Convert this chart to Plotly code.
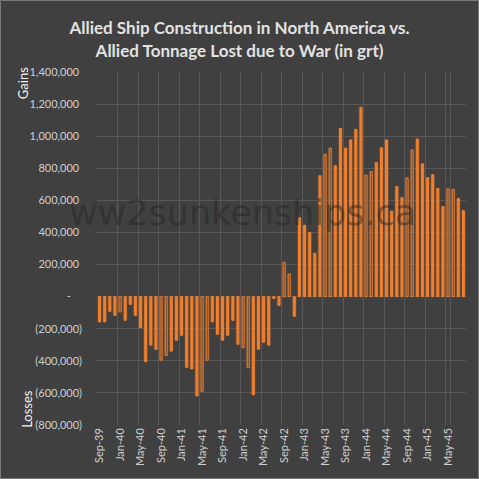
import plotly.graph_objects as go

# ---- data (grt, net gains/losses per month) ----
month_names = ["Jan", "Feb", "Mar", "Apr", "May", "Jun", "Jul", "Aug", "Sep", "Oct", "Nov", "Dec"]
months = []
for yr in range(39, 46):
    for m in month_names:
        months.append(f"{m}-{yr}")
months = months[8:8 + 72]  # Sep-39 .. Aug-45

values = [
    -158000, -158000, -92000, -117000, -96000, -148000, -49000, -117000,
    -193000, -406000, -303000, -329000, -396000, -368000, -340000, -272000,
    -241000, -441000, -451000, -619000, -591000, -396000, -158000, -235000,
    -272000, -241000, -148000, -297000, -319000, -443000, -612000, -328000,
    -285000, -303000, -12000, -55000, 214000, 141000, -123000, 492000,
    445000, 399000, 271000, 754000, 888000, 926000, 816000, 1049000,
    926000, 977000, 1043000, 1180000, 758000, 779000, 837000, 928000,
    977000, 533000, 686000, 618000, 741000, 915000, 983000, 828000,
    742000, 760000, 674000, 562000, 672000, 668000, 612000, 537000,
]

hollow_months = ["Jan-40", "Sep-40", "Oct-40", "May-41", "Jun-41", "Jan-42", "Feb-42",
                 "Sep-42", "Oct-42", "May-43", "Jun-43", "Jan-44", "Feb-44",
                 "Sep-44", "Oct-44", "May-45", "Jun-45"]

tick_labels = ["Sep-39", "Jan-40", "May-40", "Sep-40", "Jan-41", "May-41", "Sep-41",
               "Jan-42", "May-42", "Sep-42", "Jan-43", "May-43", "Sep-43", "Jan-44",
               "May-44", "Sep-44", "Jan-45", "May-45"]

y_ticks = [1400000, 1200000, 1000000, 800000, 600000, 400000, 200000, 0,
           -200000, -400000, -600000, -800000]
y_text = ["1,400,000\u00a0", "1,200,000\u00a0", "1,000,000\u00a0", "800,000\u00a0",
          "600,000\u00a0", "400,000\u00a0", "200,000\u00a0", "-\u00a0\u00a0\u00a0\u00a0",
          "(200,000)", "(400,000)", "(600,000)", "(800,000)"]

BG = "#404040"
ORANGE = "#F27F2C"
GRID = "#585858"
FONT = "Lato"

fill_colors = [BG if m in hollow_months else ORANGE for m in months]

fig = go.Figure()
# soft glow layers
fig.add_trace(go.Bar(x=months, y=values, width=0.95, marker=dict(color="rgba(242,127,44,0.14)", line=dict(width=0)),
                     hoverinfo="skip", showlegend=False))
fig.add_trace(go.Bar(x=months, y=values, width=0.7, marker=dict(color="rgba(242,127,44,0.24)", line=dict(width=0)),
                     hoverinfo="skip", showlegend=False))
# main bars
fig.add_trace(go.Bar(x=months, y=values, width=0.36,
                     marker=dict(color=fill_colors, line=dict(color=ORANGE, width=1)),
                     showlegend=False))

fig.update_layout(
    width=479, height=479,
    barmode="overlay",
    paper_bgcolor=BG, plot_bgcolor=BG,
    margin=dict(l=97, r=13, t=72, b=54),
    font=dict(family=FONT, color="#d0d0d0", size=11),
    title=dict(text="<b>Allied Ship Construction in North America vs.<br>Allied Tonnage Lost due to War (in grt)</b>",
               x=0.5, xanchor="center", yref="container", y=0.928, yanchor="middle",
               font=dict(family=FONT, size=17, color="#e2e2e2")),
    xaxis=dict(type="category", categoryorder="array", categoryarray=months,
               range=[-0.5, 71.5], tickmode="array", tickvals=tick_labels, ticktext=tick_labels,
               tickangle=-90, tickson="boundaries", showgrid=True, gridcolor=GRID, gridwidth=1,
               ticks="", zeroline=False, showline=False,
               tickfont=dict(size=11, color="#cfcfcf")),
    yaxis=dict(range=[-800000, 1400000], tickmode="array", tickvals=y_ticks, ticktext=y_text,
               showgrid=True, gridcolor=GRID, gridwidth=1, zeroline=False, showline=False,
               ticks="", ticklabelstandoff=14, tickfont=dict(size=11, color="#cfcfcf")),
    annotations=[
        dict(text="Gains", xref="paper", yref="paper", x=-0.2, y=1.02, xanchor="center", yanchor="top",
             textangle=-90, showarrow=False, font=dict(family=FONT, size=13, color="#f2f2f2")),
        dict(text="Losses", xref="paper", yref="paper", x=-0.19, y=-0.014, xanchor="center", yanchor="bottom",
             textangle=-90, showarrow=False, font=dict(family=FONT, size=13, color="#f2f2f2")),
        dict(text="ww2sunkenships.ca", xref="paper", yref="paper", x=0.393, y=0.60, xanchor="center", yanchor="middle",
             showarrow=False, font=dict(family="DejaVu Sans", size=35, color="rgba(35,35,35,0.45)")),
    ],
    shapes=[dict(type="rect", xref="paper", yref="paper", x0=-0.2615, x1=1.0339, y0=-0.1516, y1=1.2025,
                 line=dict(color="#7a7a7a", width=1), layer="below")],
)

fig.write_html("out.html", config={"displayModeBar": False},
               post_script="document.body.style.margin='0';document.body.style.background='#404040';")
